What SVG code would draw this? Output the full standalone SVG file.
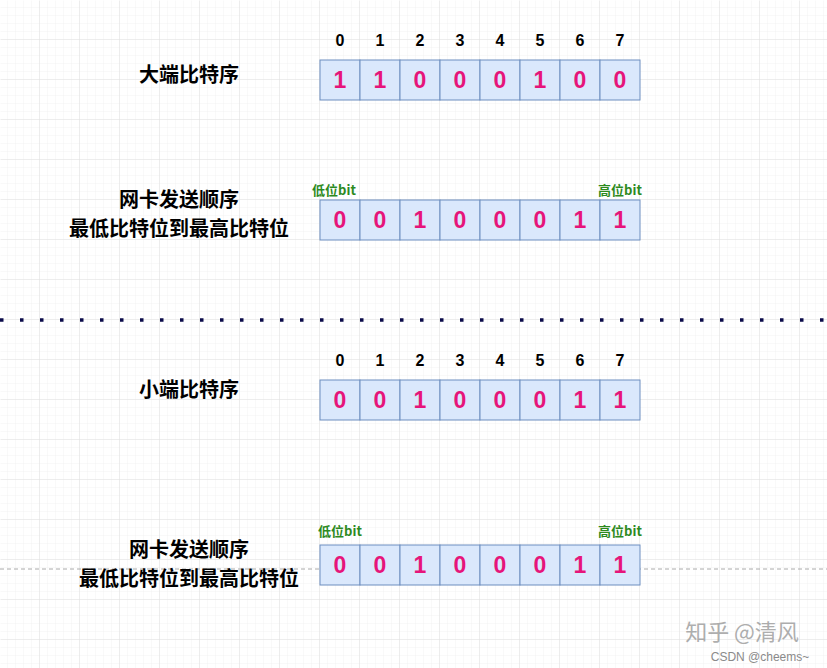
<svg xmlns="http://www.w3.org/2000/svg" width="827" height="668" viewBox="0 0 827 668">
<defs>
<pattern id="minor" width="8" height="8" patternUnits="userSpaceOnUse"><path d="M8 0V8H0" fill="none" stroke="#f2f2f2" stroke-width="1"/></pattern>
<pattern id="major" width="40" height="40" patternUnits="userSpaceOnUse"><rect width="40" height="40" fill="url(#minor)"/><path d="M40 0V40H0" fill="none" stroke="#e2e2e2" stroke-width="1"/></pattern>
</defs>
<style>
.c{fill:#dae8fc;stroke:#6c8ebf;stroke-width:1}
.v{font-family:"Liberation Sans",Arial,sans-serif;font-size:23px;font-weight:bold;fill:#e6157a;text-anchor:middle}
.i{font-family:"Liberation Sans",Arial,sans-serif;font-size:16px;font-weight:bold;fill:#000;text-anchor:middle}
.l{font-family:"Noto Sans CJK SC",sans-serif;font-size:20px;font-weight:bold;fill:#000;text-anchor:middle}
.g{font-family:"Noto Sans CJK SC",sans-serif;font-size:13px;font-weight:bold;fill:#2d8a1e;text-anchor:middle}
</style>
<rect width="827" height="668" fill="#fff"/>
<rect x="0.5" y="0.5" width="827" height="668" fill="url(#major)"/>
<g id="connectors">
<line x1="0" y1="320" x2="827" y2="320" stroke="#0b0b4a" stroke-width="3.5" stroke-dasharray="3.5 16.5"/>
<line x1="0" y1="569" x2="827" y2="569" stroke="#aaa" stroke-width="1" stroke-dasharray="4 3"/>
</g>
<g id="idx1"><text class="i" x="340" y="46">0</text><text class="i" x="380" y="46">1</text><text class="i" x="420" y="46">2</text><text class="i" x="460" y="46">3</text><text class="i" x="500" y="46">4</text><text class="i" x="540" y="46">5</text><text class="i" x="580" y="46">6</text><text class="i" x="620" y="46">7</text></g>
<g id="idx2"><text class="i" x="340" y="366">0</text><text class="i" x="380" y="366">1</text><text class="i" x="420" y="366">2</text><text class="i" x="460" y="366">3</text><text class="i" x="500" y="366">4</text><text class="i" x="540" y="366">5</text><text class="i" x="580" y="366">6</text><text class="i" x="620" y="366">7</text></g>
<g id="label1"><text class="l" x="189" y="82">大端比特序</text></g>
<g id="label2"><text class="l" x="179" y="207">网卡发送顺序</text><text class="l" x="179" y="236">最低比特位到最高比特位</text></g>
<g id="label3"><text class="l" x="189" y="397">小端比特序</text></g>
<g id="label4"><text class="l" x="189" y="557">网卡发送顺序</text><text class="l" x="189" y="586">最低比特位到最高比特位</text></g>
<g id="green"><text class="g" x="334" y="195">低位bit</text><text class="g" x="620" y="195">高位bit</text><text class="g" x="340" y="536">低位bit</text><text class="g" x="620" y="536">高位bit</text></g>
<g id="row1">
<rect class="c" x="320" y="60" width="40" height="40"/><rect class="c" x="360" y="60" width="40" height="40"/><rect class="c" x="400" y="60" width="40" height="40"/><rect class="c" x="440" y="60" width="40" height="40"/><rect class="c" x="480" y="60" width="40" height="40"/><rect class="c" x="520" y="60" width="40" height="40"/><rect class="c" x="560" y="60" width="40" height="40"/><rect class="c" x="600" y="60" width="40" height="40"/>
<text class="v" x="340" y="88">1</text><text class="v" x="380" y="88">1</text><text class="v" x="420" y="88">0</text><text class="v" x="460" y="88">0</text><text class="v" x="500" y="88">0</text><text class="v" x="540" y="88">1</text><text class="v" x="580" y="88">0</text><text class="v" x="620" y="88">0</text>
</g>
<g id="row2">
<rect class="c" x="320" y="200" width="40" height="40"/><rect class="c" x="360" y="200" width="40" height="40"/><rect class="c" x="400" y="200" width="40" height="40"/><rect class="c" x="440" y="200" width="40" height="40"/><rect class="c" x="480" y="200" width="40" height="40"/><rect class="c" x="520" y="200" width="40" height="40"/><rect class="c" x="560" y="200" width="40" height="40"/><rect class="c" x="600" y="200" width="40" height="40"/>
<text class="v" x="340" y="228">0</text><text class="v" x="380" y="228">0</text><text class="v" x="420" y="228">1</text><text class="v" x="460" y="228">0</text><text class="v" x="500" y="228">0</text><text class="v" x="540" y="228">0</text><text class="v" x="580" y="228">1</text><text class="v" x="620" y="228">1</text>
</g>
<g id="row3">
<rect class="c" x="320" y="380" width="40" height="40"/><rect class="c" x="360" y="380" width="40" height="40"/><rect class="c" x="400" y="380" width="40" height="40"/><rect class="c" x="440" y="380" width="40" height="40"/><rect class="c" x="480" y="380" width="40" height="40"/><rect class="c" x="520" y="380" width="40" height="40"/><rect class="c" x="560" y="380" width="40" height="40"/><rect class="c" x="600" y="380" width="40" height="40"/>
<text class="v" x="340" y="408">0</text><text class="v" x="380" y="408">0</text><text class="v" x="420" y="408">1</text><text class="v" x="460" y="408">0</text><text class="v" x="500" y="408">0</text><text class="v" x="540" y="408">0</text><text class="v" x="580" y="408">1</text><text class="v" x="620" y="408">1</text>
</g>
<g id="row4">
<rect class="c" x="320" y="545" width="40" height="40"/><rect class="c" x="360" y="545" width="40" height="40"/><rect class="c" x="400" y="545" width="40" height="40"/><rect class="c" x="440" y="545" width="40" height="40"/><rect class="c" x="480" y="545" width="40" height="40"/><rect class="c" x="520" y="545" width="40" height="40"/><rect class="c" x="560" y="545" width="40" height="40"/><rect class="c" x="600" y="545" width="40" height="40"/>
<text class="v" x="340" y="573">0</text><text class="v" x="380" y="573">0</text><text class="v" x="420" y="573">1</text><text class="v" x="460" y="573">0</text><text class="v" x="500" y="573">0</text><text class="v" x="540" y="573">0</text><text class="v" x="580" y="573">1</text><text class="v" x="620" y="573">1</text>
</g>
<g id="watermark">
<text x="742" y="640" font-family="Noto Sans CJK SC,sans-serif" font-size="22" fill="#9a9a9a" text-anchor="middle" opacity="0.8">知乎 @清风</text>
<text x="760" y="661" font-family="Liberation Sans,Arial,sans-serif" font-size="12" fill="#8a8a8a" text-anchor="middle">CSDN @cheems~</text>
</g>
</svg>
